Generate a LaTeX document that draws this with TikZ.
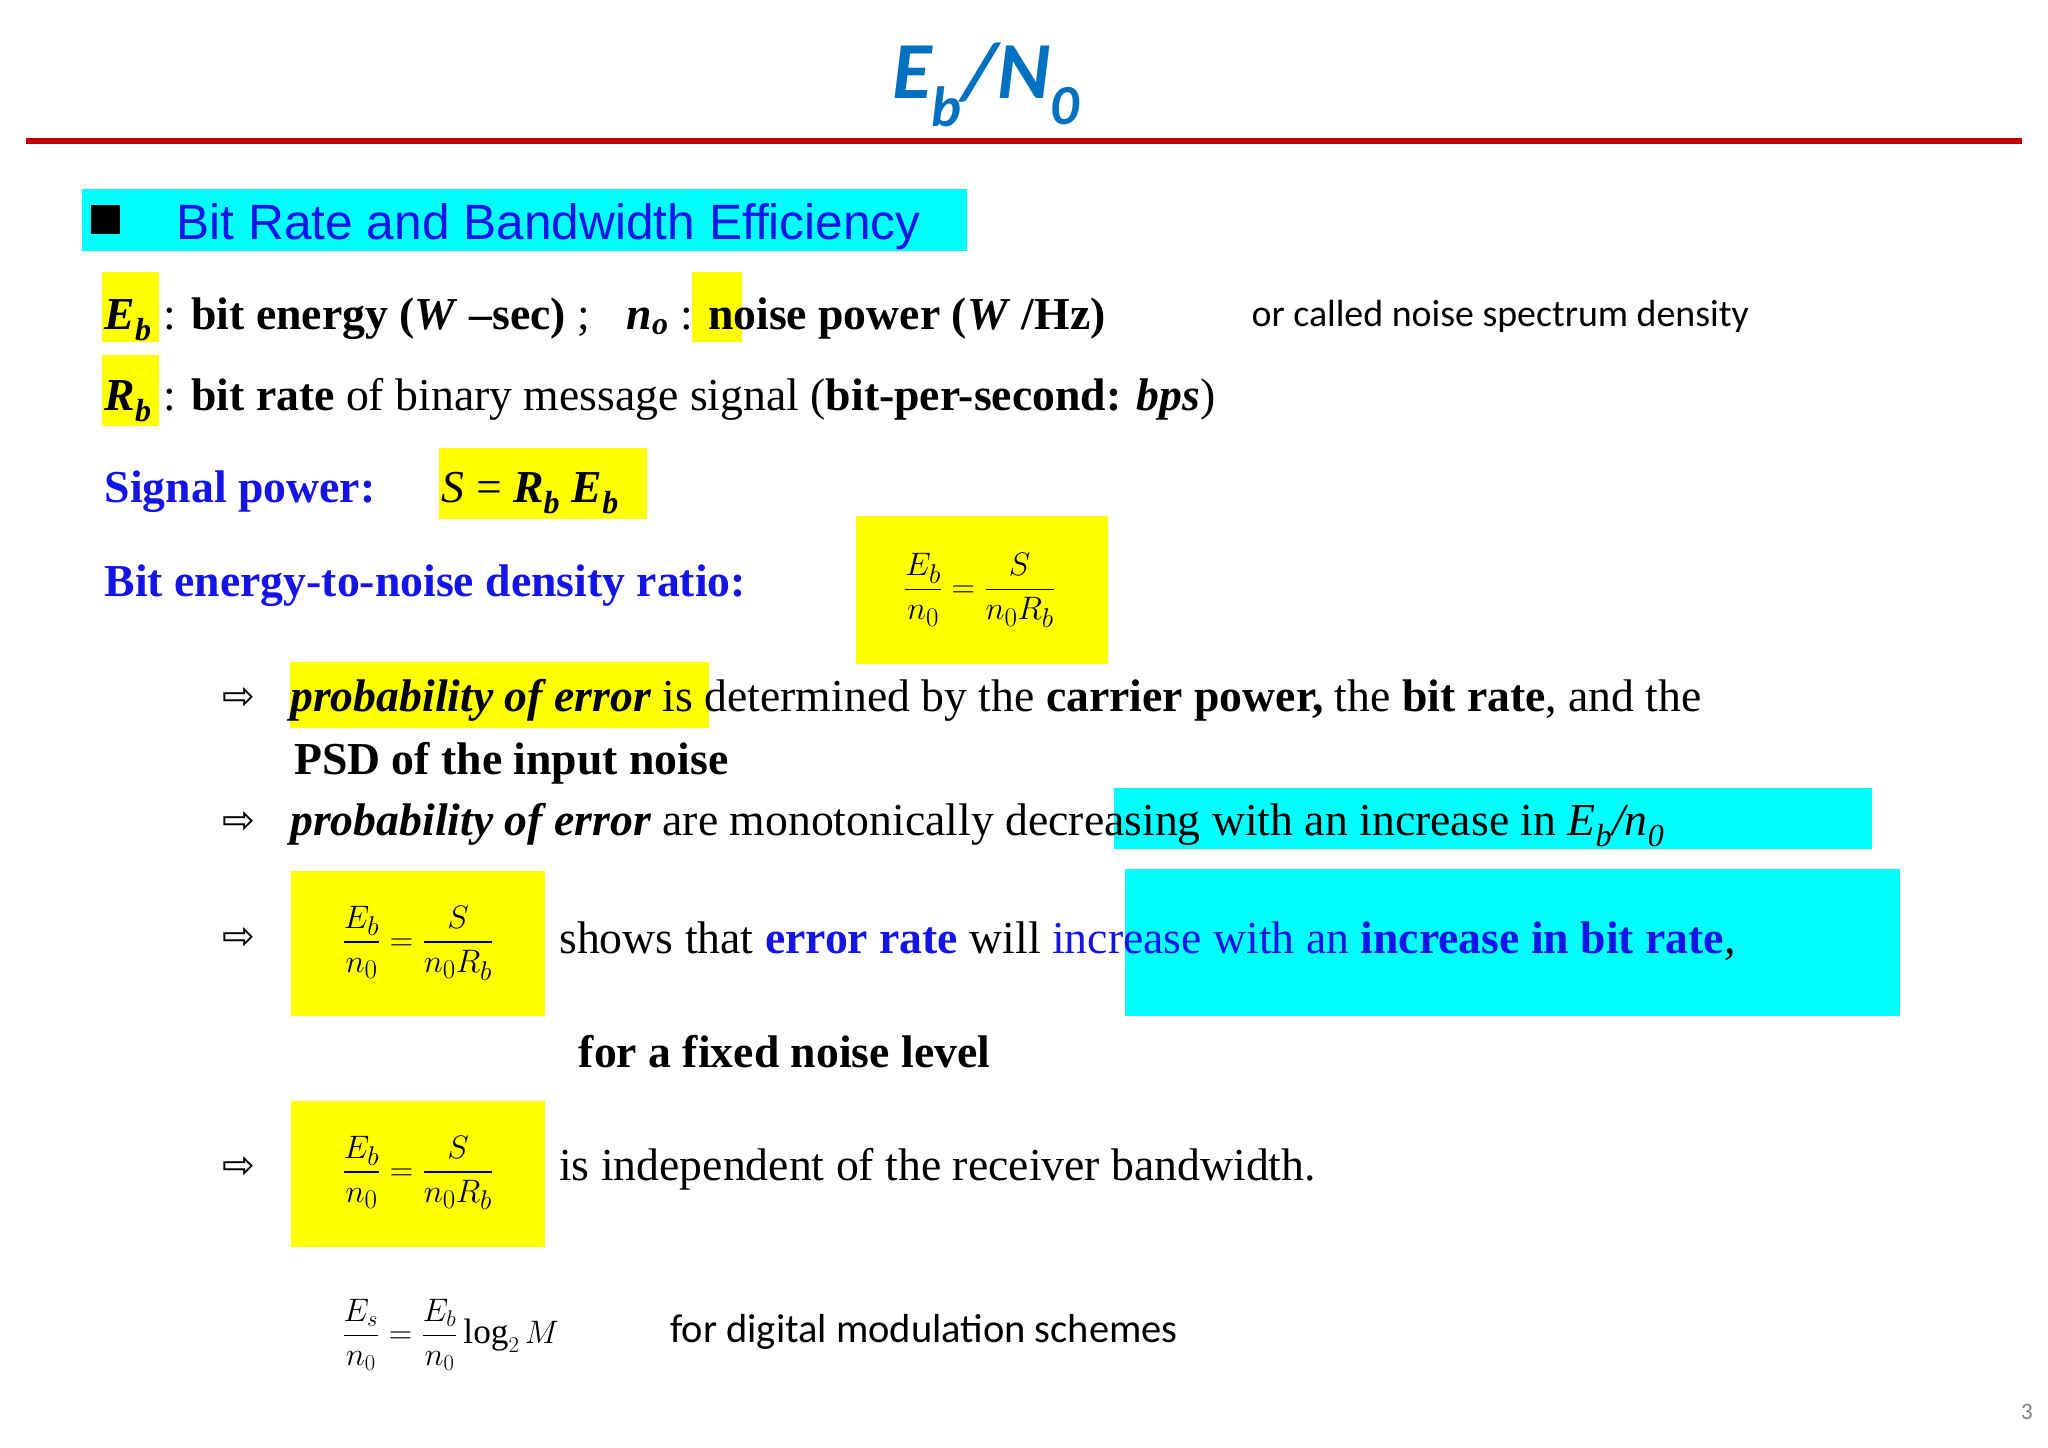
\documentclass[tikz,border=0pt]{standalone}
\usepackage{amsmath}
\usepackage{fontspec}
\setmainfont{Liberation Serif}
\newfontfamily\calfnt{Carlito}
\newfontfamily\ari{Liberation Sans}
\newfontfamily\dvs{DejaVu Sans}
\definecolor{tblue}{RGB}{0,112,192}
\definecolor{dred}{RGB}{192,0,0}
\definecolor{bblue}{RGB}{20,20,230}
\definecolor{cy}{RGB}{0,255,255}
\definecolor{yl}{RGB}{255,255,0}
\begin{document}
\begin{tikzpicture}[x=1pt,y=-1pt,
 txt/.style={anchor=base west,inner sep=0pt,font=\fontsize{35}{40}\selectfont},
 arr/.style={anchor=base west,inner sep=0pt,font=\dvs\fontsize{30}{34}\selectfont}]
\useasboundingbox[fill=white] (0,0) rectangle (1568,1108);
\node[font=\calfnt\bfseries\itshape\fontsize{62}{70}\selectfont,text=tblue] (title) at (755,65) {E\textsubscript{b}/N\textsubscript{0}};
\draw[dred,line width=4pt] (20,108) coordinate (l1) -- (1548,108) coordinate (l2);
% boxes
\fill[cy] (63,145) rectangle (740,192);
\fill[black] (70,157) rectangle (92,179);
\fill[yl] (78,208) rectangle (122,262);
\fill[yl] (530,208) rectangle (568,262);
\fill[yl] (78,272) rectangle (122,326);
\fill[yl] (336,343) rectangle (495,397);
\fill[yl] (655,395) rectangle (848,508);
\fill[yl] (222,507) rectangle (543,557);
\fill[cy] (853,603) rectangle (1433,650);
\fill[yl] (223,667) rectangle (417,778);
\fill[cy] (861,665) rectangle (1455,778);
\fill[yl] (223,843) rectangle (417,955);
\node[anchor=base west,inner sep=0pt,font=\ari\fontsize{38}{42}\selectfont,text=bblue] (h) at (135,183) {Bit Rate and Bandwidth Efficiency};
\node[txt] (a1) at (80,252) {\textbf{\textit{E\textsubscript{b}}} : \textbf{bit energy (\textit{W} –sec)} ;\hspace{28pt}\textbf{\textit{n\textsubscript{o}}} : \textbf{noise power (\textit{W} /Hz)}};
\node[anchor=base west,inner sep=0pt,font=\calfnt\fontsize{29}{32}\selectfont] (a2) at (958,250) {or called noise spectrum density};
\node[txt] (b1) at (80,314) {\textbf{\textit{R\textsubscript{b}}} : \textbf{bit rate} of binary message signal (\textbf{bit-per-second: \textit{bps}})};
\node[txt,text=bblue] (c1) at (80,385) {\textbf{Signal power:}};
\node[txt] (c2) at (338,385) {\textit{S} = \textbf{\textit{R\textsubscript{b} E\textsubscript{b}}}};
\node[txt,text=bblue] (d1) at (80,457) {\textbf{Bit energy-to-noise density ratio:}};
\node[inner sep=0pt,font=\fontsize{30}{34}\selectfont] (d2) at (750,452) {$\dfrac{E_b}{n_0}=\dfrac{S}{n_0R_b}$};
\node[arr] (r1) at (170,543) {⇨};
\node[txt] (e1) at (222,545) {\textbf{\textit{probability of error}} is determined by the \textbf{carrier power,} the \textbf{bit rate}, and the};
\node[txt] (e2) at (225,593) {\textbf{PSD of the input noise}};
\node[arr] (r2) at (170,638) {⇨};
\node[txt] (f1) at (222,640) {\textbf{\textit{probability of error}} are monotonically decreasing with an increase in \textit{E\textsubscript{b}/n\textsubscript{0}}};
\node[arr] (r3) at (170,727) {⇨};
\node[inner sep=0pt,font=\fontsize{30}{34}\selectfont] (g0) at (320,722) {$\dfrac{E_b}{n_0}=\dfrac{S}{n_0R_b}$};
\node[txt] (g1) at (428,730) {shows that \textcolor{bblue}{\textbf{error rate}} will \textcolor{bblue}{increase with an \textbf{increase in bit rate}},};
\node[txt] (g2) at (443,817) {\textbf{for a fixed noise level}};
\node[arr] (r4) at (170,902) {⇨};
\node[inner sep=0pt,font=\fontsize{30}{34}\selectfont] (h0) at (320,898) {$\dfrac{E_b}{n_0}=\dfrac{S}{n_0R_b}$};
\node[txt] (h1) at (428,904) {is independent of the receiver bandwidth.};
\node[inner sep=0pt,font=\fontsize{27}{30}\selectfont] (i0) at (345,1022) {$\dfrac{E_s}{n_0}=\dfrac{E_b}{n_0}\log_2 M$};
\node[anchor=base west,inner sep=0pt,font=\calfnt\fontsize{31}{34}\selectfont] (i1) at (513,1028) {for digital modulation schemes};
\node[anchor=base west,inner sep=0pt,font=\calfnt\fontsize{18}{20}\selectfont,text=gray] (pg) at (1547,1087) {3};
\end{tikzpicture}
\end{document}
